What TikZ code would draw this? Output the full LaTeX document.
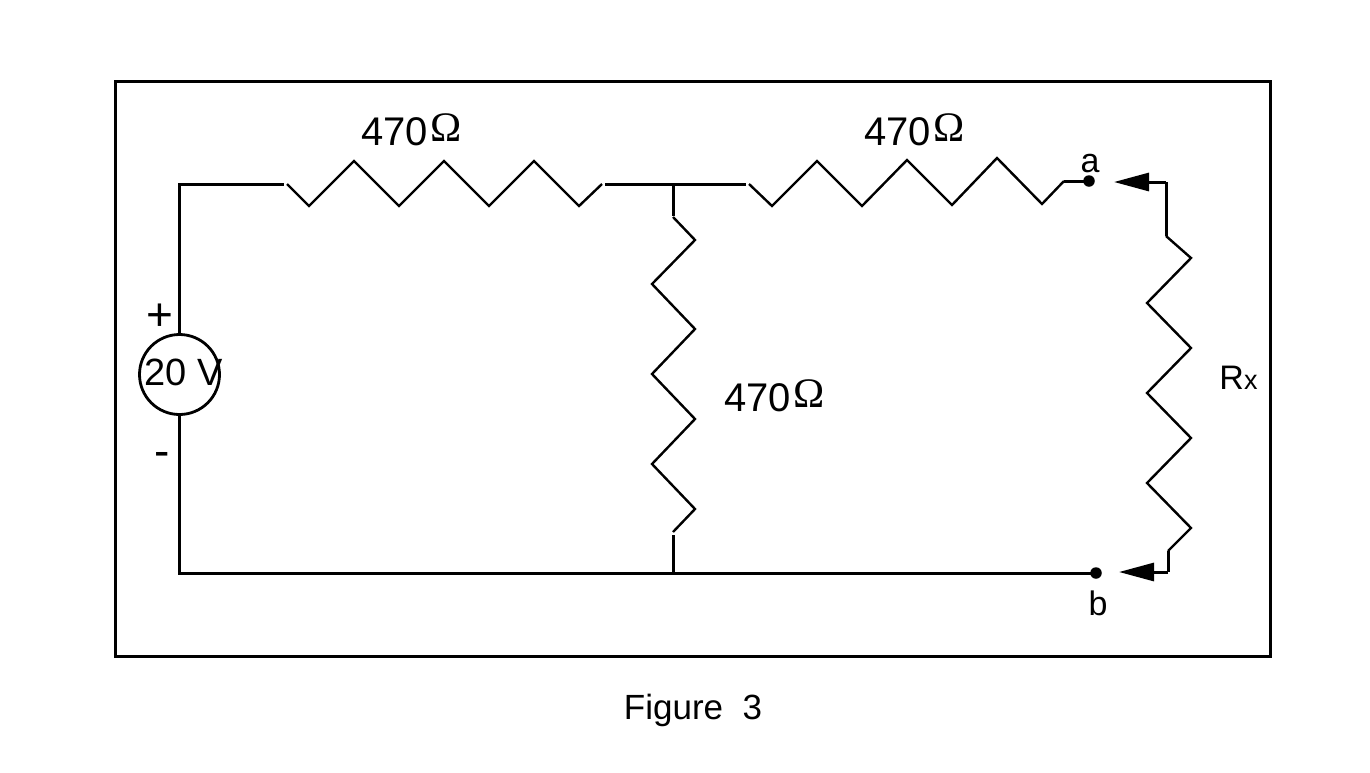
\documentclass[tikz,border=0pt]{standalone}
\usepackage{fontspec}
\setmainfont{Liberation Sans}
\newfontfamily\omegafont{Liberation Serif}
\usetikzlibrary{arrows.meta,positioning}
\def\Res{470\kern3pt\raisebox{4pt}{\omegafont\fontsize{42}{46}\selectfont\char"03A9}}
\begin{document}
\begin{tikzpicture}[x=1pt,y=-1pt,% all positions are in pixels of the sheet
		every node/.style={
			align=center,
			inner sep=0pt,
			font=\fontsize{40}{46}\selectfont
		},
		wire/.style={draw,line width=3pt},
		zigzag/.style={draw,line width=2.4pt,line join=miter},
		frame/.style={draw,line width=3pt},
		tiplabel/.style={font=\fontsize{34}{40}\selectfont},
		terminal/.style={circle,fill=black,minimum size=11.5pt},
		tip/.style={-{Triangle[length=35pt,width=18pt]}}
	]
	\useasboundingbox (0,0) rectangle (1370,772);
	\node[rectangle,frame,minimum width=1155pt,minimum height=575pt](Box) at (693,369){};
	% source
	\node[circle,line width=2.8pt,draw,minimum size=80pt](V1) at (179.5,374.5){};
	\node(V1text)[font=\fontsize{38}{44}\selectfont] at (183.5,372.5){20 V};
	\node(Plus)[font=\fontsize{46}{52}\selectfont] at (159.5,317){+};
	\node(Minus)[font=\fontsize{46}{52}\selectfont] at (162,459){-};
	% corners and ends
	\coordinate (TL) at (179.5,184);
	\coordinate (BL) at (179.5,573);
	\coordinate (Top) at (673,184);
	\coordinate (Bot) at (673,573);
	\coordinate (R1a) at (284,184);
	\coordinate (R1b) at (605,184);
	\coordinate (R2a) at (746,184);
	\coordinate (R2b) at (1064,181);
	\coordinate (R3a) at (673,216);
	\coordinate (R3b) at (673,535);
	\coordinate (RxTop) at (1166,182);
	\coordinate (RxA) at (1166,236);
	\coordinate (RxB) at (1168,551);
	\coordinate (RxBot) at (1168,572);
	\coordinate (TipA) at (1114,182);
	\coordinate (TipB) at (1119,572);
	\node[terminal](a) at (1089,181){};
	\node[terminal](b) at (1096,573){};
	% wires
	\path[wire]
	(V1.north) -- (TL) -- (R1a)
	(R1b) -- (R2a)
	(Top) -- (R3a)
	(R3b) -- (Bot)
	(V1.south) -- (BL) -- (b.center)
	(R2b) -- (a.center)
	(RxA) -- (RxTop)
	(RxB) -- (RxBot)
	;
	\draw[wire,tip] (RxTop) -- (TipA);
	\draw[wire,tip] (RxBot) -- (TipB);
	% resistors
	\draw[zigzag] (287,184) -- (309,206) -- (354,161) -- (399,206) -- (444,161) -- (489,206) -- (534,161) -- (579,206) -- (602,184);
	\draw[zigzag] (749,184) -- (772,206) -- (817,161) -- (862,206) -- (907,160) -- (952,205) -- (997,158) -- (1042,204) -- (R2b);
	\draw[zigzag] (673,217) -- (695,240) -- (652,284) -- (695,329) -- (652,374) -- (695,419) -- (652,464) -- (695,509) -- (673,532);
	\draw[zigzag] (RxA) -- (1191,258) -- (1147,303) -- (1191,348) -- (1147,393) -- (1191,438) -- (1147,483) -- (1191,528) -- (RxB);
	% labels
	\node(L1) at (411.5,129.5){\Res};
	\node(L2) at (914.5,129.5){\Res};
	\node(L3) at (774.5,395.5){\Res};
	\node[tiplabel](aL) at (1090,164){a};
	\node[tiplabel](bL) at (1098,603){b};
	\node[tiplabel](Rx) at (1238.5,378){R{\fontsize{27}{30}\selectfont x}};
	\node(Fig)[font=\fontsize{35}{41}\selectfont] at (693,710){Figure\ \ 3};
\end{tikzpicture}
\end{document}
